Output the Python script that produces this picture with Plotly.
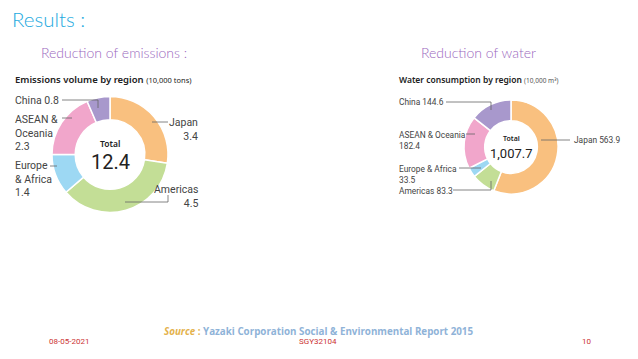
import plotly.graph_objects as go

W, H = 638, 359

# ---- data ----
regions = ["Japan", "Americas", "Europe & Africa", "ASEAN & Oceania", "China"]
emissions = [3.4, 4.5, 1.4, 2.3, 0.8]
water = [563.9, 83.3, 33.5, 182.4, 144.6]
emissions_total = "12.4"
water_total = "1,007.7"
emis_labels = ["Japan<br>3.4", "Americas<br>4.5", "Europe<br>& Africa<br>1.4",
               "ASEAN &<br>Oceania<br>2.3", "China 0.8"]
water_labels = ["Japan 563.9", "Americas 83.3", "Europe & Africa<br>33.5",
                "ASEAN & Oceania<br>182.4", "China 144.6"]

colors = ["#F9C07F", "#C3DE96", "#9DD8F3", "#F1A6CB", "#A898CC"]

LABEL_FONT = "Roboto"

def px(x):
    return x / W

def py(y):
    return 1 - y / H

def dom(cx, cy, r):
    return dict(x=[px(cx - r), px(cx + r)], y=[py(cy + r), py(cy - r)])

fig = go.Figure()
fig.add_trace(go.Pie(values=emissions, labels=regions, hole=0.6, sort=False,
                     direction="clockwise", rotation=0, textinfo="none",
                     hoverinfo="label+value", showlegend=False,
                     marker=dict(colors=colors, line=dict(color="white", width=1.5)),
                     domain=dom(110, 154.5, 58)))
fig.add_trace(go.Pie(values=water, labels=regions, hole=0.56, sort=False,
                     direction="clockwise", rotation=0, textinfo="none",
                     hoverinfo="label+value", showlegend=False,
                     marker=dict(colors=colors, line=dict(color="white", width=1.5)),
                     domain=dom(511, 147, 47)))

ann = []
def text(x, y, s, size, color="#444", xanchor="left", yanchor="middle", weight=400,
         family=LABEL_FONT, align="left", style="normal"):
    ann.append(dict(x=px(x), y=py(y), xref="paper", yref="paper", text=s,
                    showarrow=False, xanchor=xanchor, yanchor=yanchor, align=align,
                    font=dict(size=size, color=color, family=family, weight=weight,
                              style=style)))

# slide titles
text(10, 19, "Results :", 20.5, color="#1EAAE0", weight=300, family="Lato")
text(39, 52, "Reduction of emissions :", 14, color="#9A68BE", weight=300, family="Lato")
text(419, 52, "Reduction of water", 14, color="#9A68BE", weight=300, family="Lato")

# chart titles
text(13, 80, "Emissions volume by region <span style='font-size:7.5px;font-weight:400'>(10,000 tons)</span>",
     9.5, color="#222", weight=600, family="Noto Sans")
text(397, 80, "Water consumption by region <span style='font-size:6.5px;font-weight:400;color:#555'>(10,000 m³)</span>",
     8.5, color="#222", weight=600, family="Noto Sans")

# emissions labels: (x, y, anchor/alignment, leader polyline)
emis_layout = [
    (200, 129, "right", [(152, 122), (168, 122)]),
    (200, 196, "right", [(125, 202), (168, 202), (168, 195)]),
    (13, 179, "left", [(50, 166), (57, 166)]),
    (13, 133, "left", [(62, 118), (72, 118)]),
    (13, 100, "left", [(62, 100), (98, 100), (98, 108)]),
]
for lab, (x, y, al, pts) in zip(emis_labels, emis_layout):
    text(x, y, lab, 10.5, color="#444", xanchor=al, align=al)
    path = "M " + " L ".join(f"{px(a)} {py(b)}" for a, b in pts)
    fig.add_shape(type="path", path=path, xref="paper", yref="paper",
                  line=dict(color="#666", width=0.8))

water_layout = [
    (572, 140, [(541, 140), (570, 140)]),
    (397, 191, [(453, 190), (491, 190), (491, 181)]),
    (397, 174, [(459, 168), (481, 168)]),
    (397, 140, [(466, 134), (475, 134)]),
    (397, 102, [(446, 102), (491, 102), (491, 110)]),
]
for lab, (x, y, pts) in zip(water_labels, water_layout):
    text(x, y, lab, 8.4, color="#444")
    path = "M " + " L ".join(f"{px(a)} {py(b)}" for a, b in pts)
    fig.add_shape(type="path", path=path, xref="paper", yref="paper",
                  line=dict(color="#666", width=0.8))

# centre totals
text(110, 143, "Total", 8.5, color="#222", xanchor="center", weight=600, family="Noto Sans")
text(110, 162, emissions_total, 20, color="#222", xanchor="center")
text(511, 138, "Total", 7, color="#222", xanchor="center", weight=600, family="Noto Sans")
text(511, 153, water_total, 13, color="#222", xanchor="center")

# footer
text(318, 331, "<i><span style='color:#E4B24C'>Source</span></i><span style='color:#E4B24C'> :</span> Yazaki Corporation Social &amp; Environmental Report 2015",
     9.8, color="#8FB3D8", xanchor="center", weight=700, family="Open Sans")
text(69, 341, "08-05-2021", 8, color="#CC3333", xanchor="center", family="Roboto")
text(318, 341, "SGY32104", 8, color="#CC3333", xanchor="center", family="Roboto")
text(586, 341, "10", 8, color="#CC3333", xanchor="center", family="Roboto")

fig.update_layout(width=W, height=H, margin=dict(l=0, r=0, t=0, b=0),
                  paper_bgcolor="white", plot_bgcolor="white", annotations=ann)
fig.write_html("out.html", post_script="document.body.style.margin='0';document.body.style.overflow='hidden';",
               config={"displayModeBar": False})
